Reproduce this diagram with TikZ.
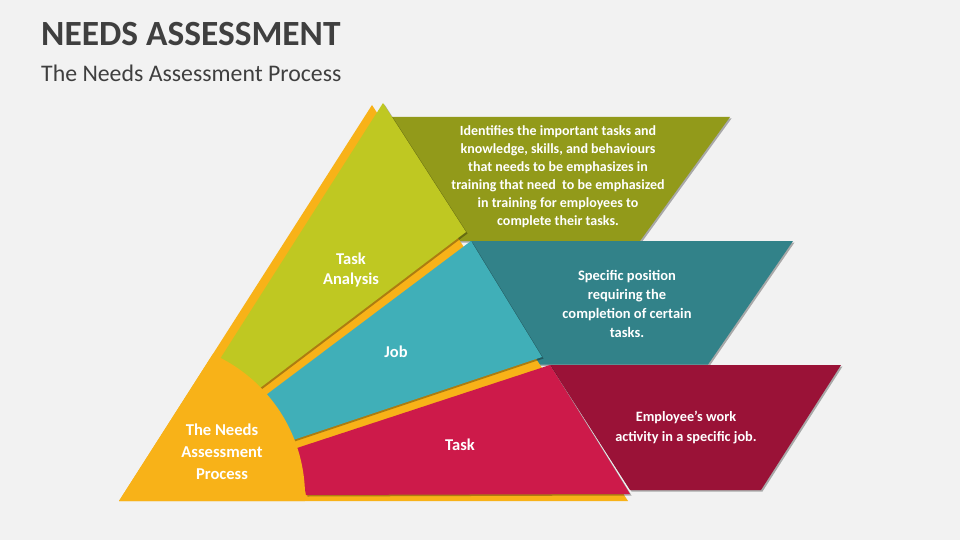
\documentclass[tikz,border=0pt]{standalone}
\usepackage{fontspec}
\setmainfont{Carlito}
\usetikzlibrary{shadows}
\definecolor{bg}{HTML}{F2F2F2}
\definecolor{titlegray}{HTML}{3F3F3F}
\definecolor{ora}{HTML}{F8B218}
\definecolor{lime}{HTML}{BFC822}
\definecolor{olive}{HTML}{929A1A}
\definecolor{cyanf}{HTML}{40AFB8}
\definecolor{tealb}{HTML}{328289}
\definecolor{redf}{HTML}{CD1A4A}
\definecolor{maroon}{HTML}{9A1237}
\tikzset{
  shad/.style={drop shadow={shadow xshift=1.5pt, shadow yshift=-1.5pt, opacity=0.3, fill=black}},
  boxtext/.style={text=white, align=center, font=\bfseries\fontsize{14.2}{18.5}\selectfont},
  fantext/.style={text=white, align=center, font=\bfseries\fontsize{16.5}{19.5}\selectfont},
}
\begin{document}
\begin{tikzpicture}[x=1pt,y=-1pt]
\fill[bg] (0,0) rectangle (960,540);
\useasboundingbox (0,0) rectangle (960,540);
% title
\node[anchor=base west, inner sep=0, text=titlegray, font=\bfseries\fontsize{35.4}{40}\selectfont] (title) at (41,46) {NEEDS ASSESSMENT};
\node[anchor=base west, inner sep=0, text=titlegray, font=\fontsize{23.8}{28}\selectfont] (subtitle) at (41,82) {The Needs Assessment Process};
% description boxes (behind)
\fill[olive, shad] (392,117) -- (730,117) -- (640,241) -- (440,241) -- cycle;
\fill[tealb, shad] (470,241) -- (793,241) -- (708,364.5) -- (520,364.5) -- cycle;
\fill[maroon, shad] (550,365) -- (841,365) -- (761,490) -- (630,490) -- cycle;
% orange triangle
\fill[ora] (372,105) -- (119,501) -- (628,501) -- cycle;
% fans
\fill[lime, shad] (383,103) -- (466,232) -- (260,388) -- (220,359) -- cycle;
\fill[cyanf, shad] (471,241) -- (542,357) -- (293,440) -- (266,395) -- cycle;
\fill[redf, shad] (550,365) -- (630,494) -- (306,495) -- (297,448) -- cycle;
% orange sector
\begin{scope}
\clip (372,105) -- (119,501) -- (628,501) -- cycle;
\fill[ora] (150,496) circle[radius=155];
\end{scope}
% labels
\node[fantext] (ta) at (351,270) {Task\\Analysis};
\node[fantext] (job) at (396,352) {Job};
\node[fantext] (task) at (460,445) {Task};
\node[fantext, font=\bfseries\fontsize{16.6}{22}\selectfont] (nap) at (222,452) {The Needs\\Assessment\\Process};
\node[boxtext, font=\bfseries\fontsize{14}{18}\selectfont] (d1) at (558,177) {Identifies the important tasks and\\knowledge, skills, and behaviours\\that needs to be emphasizes in\\training that need\ \ to be emphasized\\in training for employees to\\complete their tasks.};
\node[boxtext, font=\bfseries\fontsize{14.5}{19.3}\selectfont] (d2) at (627,304) {Specific position\\requiring the\\completion of certain\\tasks.};
\node[boxtext, font=\bfseries\fontsize{14.3}{20}\selectfont] (d3) at (686,428) {Employee’s work\\activity in a specific job.};
\end{tikzpicture}
\end{document}
